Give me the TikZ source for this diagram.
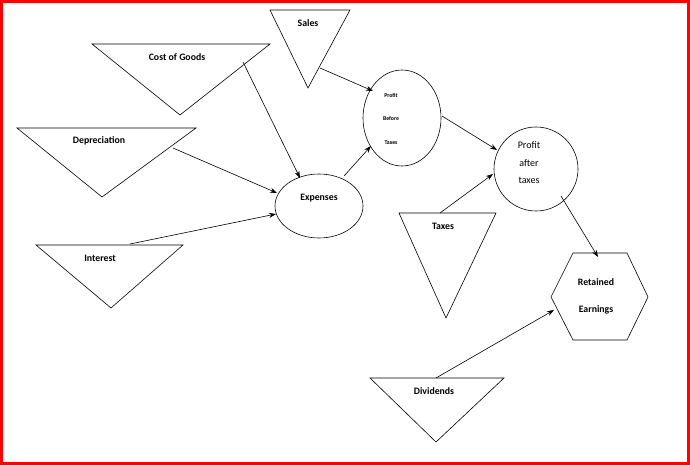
\documentclass[tikz,border=0pt]{standalone}
\usepackage{fontspec}
\setmainfont{Carlito}
\usetikzlibrary{arrows.meta,shapes.geometric}
\begin{document}
\begin{tikzpicture}[x=1pt,y=-1pt,
  shp/.style={draw=black,line width=0.6pt,fill=white},
  lbl/.style={font=\bfseries\fontsize{9.8}{11}\selectfont,inner sep=0pt},
  tiny/.style={font=\bfseries\fontsize{5.8}{6}\selectfont,inner sep=0pt},
  arr/.style={-{Stealth[length=7pt,width=5pt]},line width=0.6pt}]
\fill[white] (0,0) rectangle (690,465);
\draw[red,line width=3pt] (1.5,1.5) rectangle (688.5,463.5);
% triangles
\draw[shp] (270,10)--(350,10)--(308,88)--cycle;
\node[lbl] (sales) at (308,23) {Sales};
\draw[shp] (92,44)--(270,44)--(180,115)--cycle;
\node[lbl] (cog) at (177,57) {Cost of Goods};
\draw[shp] (17,128)--(196,128)--(102,197)--cycle;
\node[lbl] (dep) at (99,141) {Depreciation};
\draw[shp] (36,245)--(183,245)--(111,308)--cycle;
\node[lbl] (int) at (100,258) {Interest};
\draw[shp] (399,213)--(496,213)--(446,318)--cycle;
\node[lbl] (tax) at (443,226) {Taxes};
\draw[shp] (370,378)--(504,378)--(436,442)--cycle;
\node[lbl] (div) at (434,391) {Dividends};
% ellipses
\draw[shp] (402,118) ellipse [x radius=39,y radius=48];
\node[tiny] (pbt1) at (391,95) {Profit};
\node[tiny] at (391,119) {Before};
\node[tiny] at (391,143) {Taxes};
\draw[shp] (319,206) ellipse [x radius=44,y radius=32];
\node[lbl] (exp) at (319,198) {Expenses};
\draw[shp] (536,169) circle [radius=42];
\node[font=\fontsize{10}{11}\selectfont,inner sep=0pt] (pat) at (529,145) {Profit};
\node[font=\fontsize{10}{11}\selectfont,inner sep=0pt] at (529,163) {after};
\node[font=\fontsize{10}{11}\selectfont,inner sep=0pt] at (529,180) {taxes};
\draw[shp] (551,297)--(573,253)--(627,253)--(648,297)--(627,340)--(573,340)--cycle;
\node[lbl] (re) at (596,282) {Retained};
\node[lbl] at (596,310) {Earnings};
% connector endpoints
\coordinate (a1) at (320,68); \coordinate (b1) at (373,91);
\coordinate (a2) at (243,62); \coordinate (b2) at (300,178);
\coordinate (a3) at (173,148); \coordinate (b3) at (277,193);
\coordinate (a4) at (130,244); \coordinate (b4) at (276,214);
\coordinate (a5) at (344,176); \coordinate (b5) at (371,146);
\coordinate (a6) at (442,116); \coordinate (b6) at (497,150);
\coordinate (a7) at (440,213); \coordinate (b7) at (493,174);
\coordinate (a8) at (561,196); \coordinate (b8) at (598,257);
\coordinate (a9) at (436,378); \coordinate (b9) at (554,310);
\foreach \i in {1,...,9} \draw[arr] (a\i)--(b\i);
\end{tikzpicture}
\end{document}
